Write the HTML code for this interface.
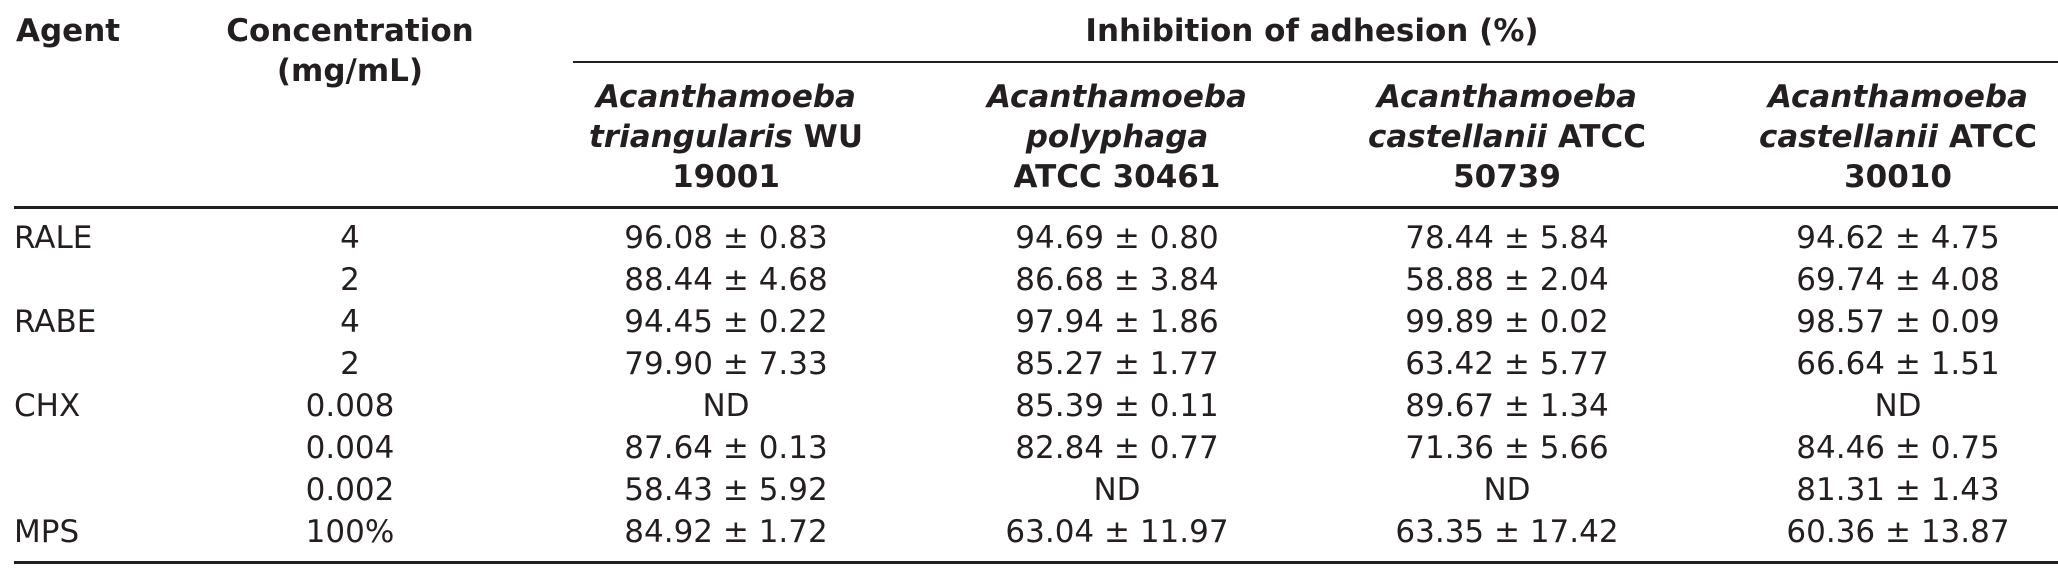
<!DOCTYPE html>
<html><head><meta charset="utf-8"><style>
body{margin:0;width:2058px;height:570px;background:#fff;position:relative;overflow:hidden;font-family:"DejaVu Sans","Liberation Sans",sans-serif;color:#231f20;}
.t{position:absolute;font-size:31px;line-height:40px;white-space:nowrap;}
.c{transform:translateX(-50%);text-align:center;}
.b{font-weight:bold;}
.rule{position:absolute;background:#231f20;}
</style></head><body>
<div class="rule" style="left:573px;top:61px;width:1485px;height:2px"></div>
<div class="rule" style="left:14px;top:206px;width:2044px;height:3px"></div>
<div class="rule" style="left:14px;top:561px;width:2044px;height:3px"></div>

<div class="t b" style="left:16px;top:11px">Agent</div>
<div class="t b c" style="left:350px;top:11px">Concentration<br>(mg/mL)</div>
<div class="t b c" style="left:1312px;top:11px">Inhibition of adhesion (%)</div>

<div class="t b c" style="left:726px;top:77px"><i>Acanthamoeba</i><br><i>triangularis</i> WU<br>19001</div>
<div class="t b c" style="left:1117px;top:77px"><i>Acanthamoeba</i><br><i>polyphaga</i><br>ATCC 30461</div>
<div class="t b c" style="left:1507px;top:77px"><i>Acanthamoeba</i><br><i>castellanii</i> ATCC<br>50739</div>
<div class="t b c" style="left:1898px;top:77px"><i>Acanthamoeba</i><br><i>castellanii</i> ATCC<br>30010</div>

<div class="t" style="left:14px;top:217px;line-height:42px">RALE<br><br>RABE<br><br>CHX<br><br><br>MPS</div>
<div class="t c" style="left:350px;top:217px;line-height:42px">4<br>2<br>4<br>2<br>0.008<br>0.004<br>0.002<br>100%</div>
<div class="t c" style="left:726px;top:217px;line-height:42px">96.08 ± 0.83<br>88.44 ± 4.68<br>94.45 ± 0.22<br>79.90 ± 7.33<br>ND<br>87.64 ± 0.13<br>58.43 ± 5.92<br>84.92 ± 1.72</div>
<div class="t c" style="left:1117px;top:217px;line-height:42px">94.69 ± 0.80<br>86.68 ± 3.84<br>97.94 ± 1.86<br>85.27 ± 1.77<br>85.39 ± 0.11<br>82.84 ± 0.77<br>ND<br>63.04 ± 11.97</div>
<div class="t c" style="left:1507px;top:217px;line-height:42px">78.44 ± 5.84<br>58.88 ± 2.04<br>99.89 ± 0.02<br>63.42 ± 5.77<br>89.67 ± 1.34<br>71.36 ± 5.66<br>ND<br>63.35 ± 17.42</div>
<div class="t c" style="left:1898px;top:217px;line-height:42px">94.62 ± 4.75<br>69.74 ± 4.08<br>98.57 ± 0.09<br>66.64 ± 1.51<br>ND<br>84.46 ± 0.75<br>81.31 ± 1.43<br>60.36 ± 13.87</div>
</body></html>
